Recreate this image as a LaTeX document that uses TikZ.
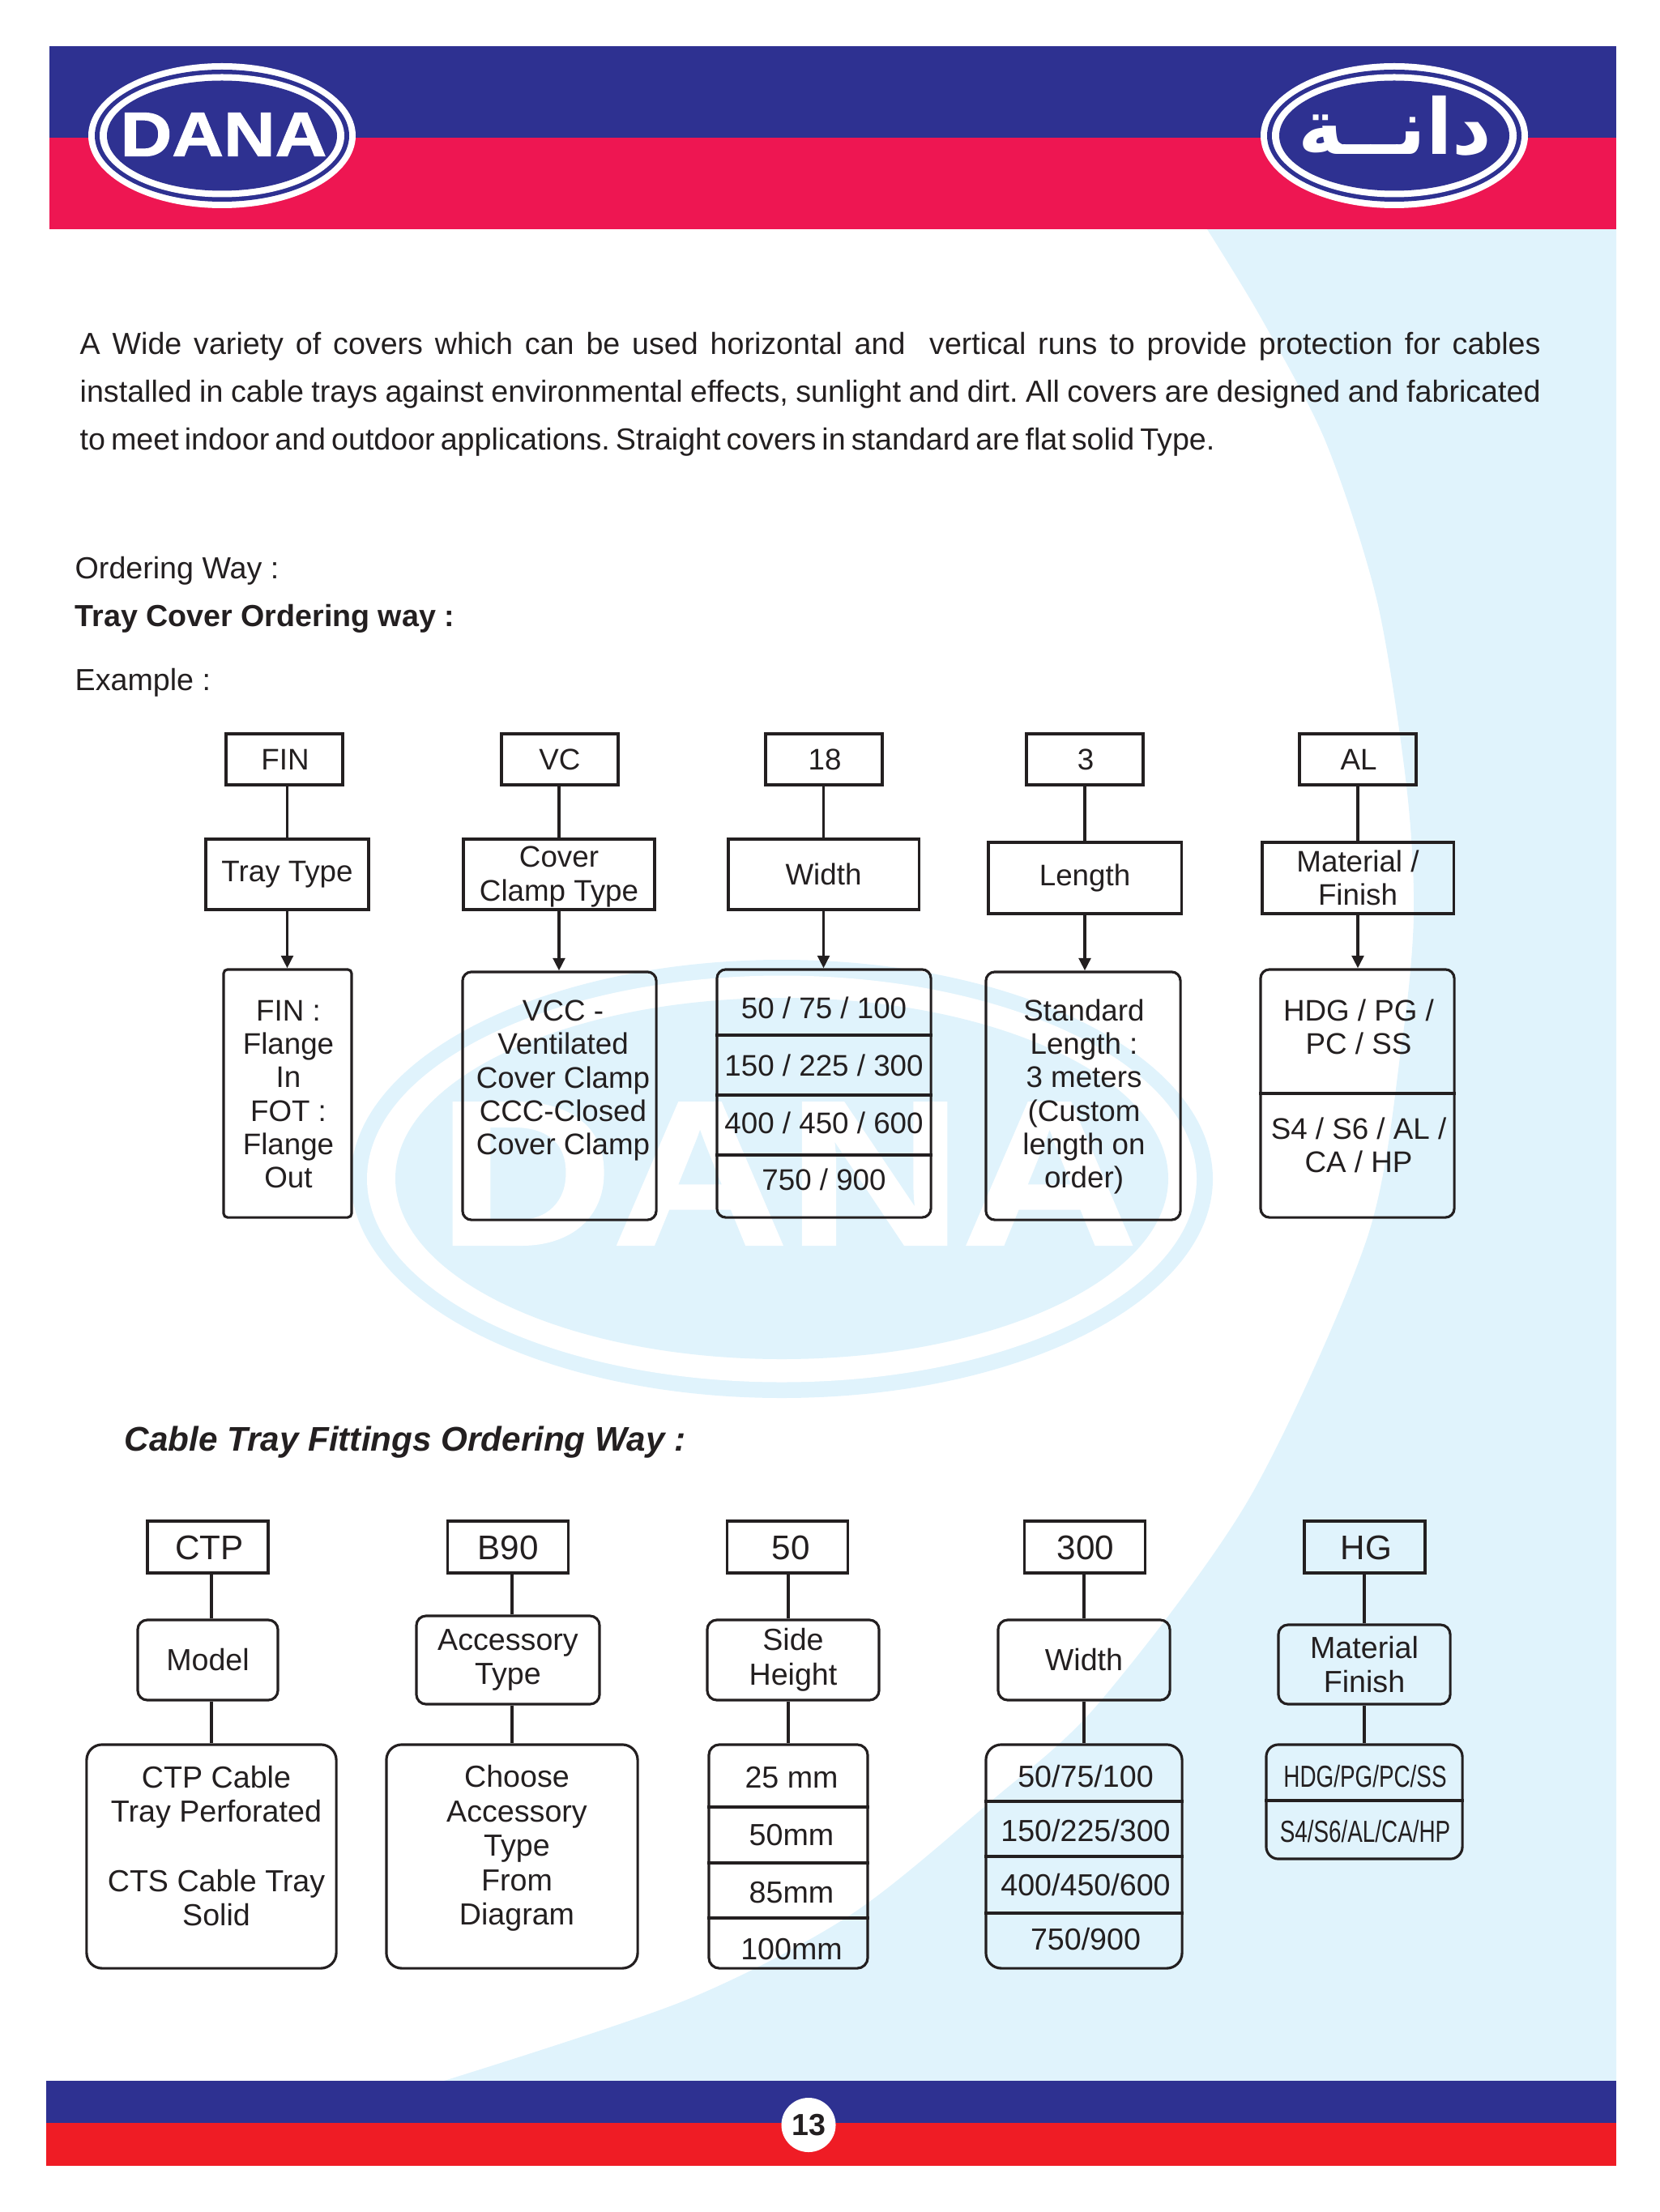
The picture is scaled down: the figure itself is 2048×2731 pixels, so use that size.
\documentclass[tikz,border=0pt]{standalone}
\usepackage{fontspec}
\setmainfont{Liberation Sans}
\newfontfamily\arabicfont[Script=Arabic]{DejaVu Sans}
\newfontfamily\condfont[FakeStretch=0.74]{Liberation Sans}
\newfontfamily\wideboldfont[FakeStretch=1.14,FakeBold=1.5]{Liberation Sans Bold}
\newfontfamily\markfont[FakeStretch=1.18,FakeBold=1.5]{Liberation Sans Bold}
\TeXXeTstate=1
\usetikzlibrary{arrows.meta,shapes.geometric}
\definecolor{danablue}{HTML}{2E3191}
\definecolor{danarose}{HTML}{EE1652}
\definecolor{danared}{HTML}{EF1C25}
\definecolor{danapale}{HTML}{E0F3FC}
\definecolor{ink}{HTML}{231F20}
\newcommand{\rowfont}{\fontsize{10.45}{11.7}\selectfont}
\newcommand{\fitfont}{\fontsize{10.7}{12.1}\selectfont}
\newcommand{\pagefont}{\fontsize{10.7}{16.8}\selectfont\frenchspacing}

\begin{document}
\begin{tikzpicture}[x=0.01cm,y=-0.01cm,
  every node/.style={text=ink, inner sep=0pt},
  tag/.style={draw=ink, line width=0.9pt, rectangle, minimum width=1.44cm, minimum height=0.63cm,
              font=\rowfont, text height=7.6pt, text depth=0pt},
  ftag/.style={tag, minimum width=1.49cm, minimum height=0.64cm, font=\fontsize{12}{13}\selectfont, text height=8.6pt},
  lbl/.style={draw=ink, line width=0.9pt, rectangle, align=center, font=\rowfont},
  flbl/.style={lbl, rounded corners=1.2mm, font=\fitfont},
  opt/.style={draw=ink, line width=0.9pt, rectangle, rounded corners=1.1mm},
  fopt/.style={opt, rounded corners=1.9mm},
  txt/.style={align=center, font=\rowfont},
  ftxt/.style={align=center, font=\fitfont},
  cell/.style={font=\rowfont, text height=7.6pt, text depth=0pt},
  fcell/.style={font=\fitfont, text height=7.7pt, text depth=0pt},
  para/.style={anchor=west, font=\pagefont},
  ln/.style={draw=ink, line width=0.9pt},
  ar/.style={ln, -{Triangle[length=4.4pt,width=4.2pt]}}]

\useasboundingbox (0,0) rectangle (2048,2731);

%% ---- PAGE BACKGROUND ----
\fill[danapale] plot[smooth] coordinates {(1490,283) (1558,395) (1637,547) (1700,743) (1736,970)
  (1745,1130) (1730,1290) (1687,1530) (1542,1850) (1356,2103) (1223,2224) (1050,2364) (845,2470) (548,2569)}
  -- (1995,2569) -- (1995,283) -- cycle;
\fill[danapale] (965,1455.5) ellipse [x radius=532, y radius=270.5];
\fill[white]    (965,1455.5) ellipse [x radius=512, y radius=251];
\fill[danapale] (965,1455)   ellipse [x radius=477, y radius=223];
\node[text=white, font=\markfont\fontsize{72}{72}\selectfont] (wmark) at (972,1449) {DANA};

%% ---- HEADER AND FOOTER BANDS ----
\fill[danablue] (61,57) rectangle (1995,170);
\fill[danarose] (61,170) rectangle (1995,283);
\fill[danablue] (57,2569) rectangle (1995,2621);
\fill[danared]  (57,2621) rectangle (1995,2674);
\foreach \cx in {274,1721} {
  \fill[white]    (\cx,167.5) ellipse [x radius=165, y radius=89.5];
  \fill[danablue] (\cx,167.5) ellipse [x radius=157, y radius=81.5];
  \fill[white]    (\cx,167.5) ellipse [x radius=151, y radius=76];
  \fill[danablue] (\cx,167.5) ellipse [x radius=142, y radius=68];
}
\node[text=white, font=\wideboldfont\fontsize{22}{22}\selectfont] (logoL) at (276,166) {DANA};
\node[text=white, font=\arabicfont\bfseries\fontsize{27}{27}\selectfont] (logoR) at (1722,156) {\beginR دانــة\endR};
\node[circle, fill=white, minimum size=0.67cm, font=\bfseries\fontsize{10.7}{12}\selectfont] (pgnum) at (998,2623.5) {13};

%% ---- INTRO TEXT ----
\node[para] (intro1) at (98,428) {\makebox[18.02cm][s]{A Wide variety of covers which can be used horizontal and\ \ vertical runs to provide protection for cables}};
\node[para] (intro2) at (98,487) {\makebox[18.02cm][s]{installed in cable trays against environmental effects, sunlight and dirt. All covers are designed and fabricated}};
\node[para] (intro3) at (98,546) {\makebox[14.0cm][s]{to meet indoor and outdoor applications. Straight covers in standard are flat solid Type.}};
\node[para] (ordway) at (92,705) {Ordering Way :};
\node[para, font=\pagefont\bfseries] (ordcov) at (92,764) {Tray Cover Ordering way :};
\node[para] (example) at (92,843) {Example :};
\node[para, font=\fontsize{12}{14}\selectfont\bfseries\itshape] (fitttl) at (153,1781) {Cable Tray Fittings Ordering Way :};

%% ---- TRAY COVER ROW (top, label, options) ----
\node[tag] (tFIN) at (351,937.5)  {\hspace*{0.02cm}FIN};
\node[tag] (tVC)  at (691,937.5)  {VC};
\node[tag] (t18)  at (1017,937.5) {\hspace*{0.02cm}18};
\node[tag] (t3)   at (1339,937.5) {\hspace*{0.02cm}3};
\node[tag] (tAL)  at (1676,937.5) {\hspace*{0.02cm}AL};

\node[lbl, minimum width=2.01cm, minimum height=0.87cm] (mFIN) at (354.5,1079.5) {Tray Type};
\node[lbl, minimum width=2.36cm, minimum height=0.87cm] (mVC)  at (690,1079.5)   {\rule{0pt}{9pt}Cover\\Clamp Type};
\node[lbl, minimum width=2.35cm, minimum height=0.87cm] (m18)  at (1016.5,1079.5){Width};
\node[lbl, minimum width=2.38cm, minimum height=0.88cm] (m3)   at (1339,1084)    {Length};
\node[lbl, minimum width=2.36cm, minimum height=0.88cm] (mAL)  at (1676,1084)    {Material /\\Finish};

\node[opt, rounded corners=0.5mm, minimum width=1.58cm, minimum height=3.06cm] (bFIN) at (355,1350) {};
\node[opt, minimum width=2.39cm, minimum height=3.06cm] (bVC)  at (690.5,1353) {};
\node[opt, minimum width=2.64cm, minimum height=3.06cm] (b18)  at (1017,1350)  {};
\node[opt, minimum width=2.40cm, minimum height=3.06cm] (b3)   at (1337,1353)  {};
\node[opt, minimum width=2.39cm, minimum height=3.06cm] (bAL)  at (1675.5,1350){};

\node[txt] (xFIN) at (356,1351) {FIN :\\Flange\\In\\FOT :\\Flange\\Out};
\node[txt] (xVC)  at (695,1334) {VCC -\\Ventilated\\Cover Clamp\\CCC-Closed\\Cover Clamp};
\node[cell] (w1) at (1017,1244) {50 / 75 / 100};
\node[cell] (w2) at (1017,1315) {150 / 225 / 300};
\node[cell] (w3) at (1017,1386) {400 / 450 / 600};
\node[cell] (w4) at (1017,1456) {750 / 900};
\node[txt] (x3)   at (1338,1354) {Standard\\Length :\\3 meters\\(Custom\\length on\\order)};
\node[txt] (xAL1) at (1677,1268) {HDG / PG /\\PC / SS};
\node[txt] (xAL2) at (1677,1414) {S4 / S6 / AL /\\CA / HP};

%% --- Lines ---
\foreach \nm in {FIN,VC,18,3,AL} {
  \draw[ln] (m\nm.north |- t\nm.south) -- (m\nm.north);
  \draw[ar] (m\nm.south) -- (m\nm.south |- b\nm.north);
}
\foreach \yy in {1278,1352,1426}
  \draw[ln] (b18.west |- 0,\yy) -- (b18.east |- 0,\yy);
\draw[ln] (bAL.west |- 0,1350) -- (bAL.east |- 0,1350);

%% ---- FITTINGS ROW (top, label, options) ----
\node[ftag] (tCTP) at (256.5,1910)  {\hspace*{0.04cm}CTP};
\node[ftag] (tB)   at (627,1910)    {B90};
\node[ftag] (tS)   at (972,1910)    {\hspace*{0.08cm}50};
\node[ftag] (tW)   at (1339,1910)   {\hspace*{0.02cm}300};
\node[ftag] (tH)   at (1684.5,1910) {\hspace*{0.04cm}HG};

\node[flbl, minimum width=1.73cm, minimum height=0.99cm] (mCTP) at (256.5,2049.5) {Model};
\node[flbl, minimum width=2.26cm, minimum height=1.09cm] (mB)   at (627,2049.5)   {Accessory\\Type};
\node[flbl, minimum width=2.12cm, minimum height=0.99cm] (mS)   at (979,2049.5)   {Side\\Height};
\node[flbl, minimum width=2.12cm, minimum height=0.99cm] (mW)   at (1338,2049.5)  {Width};
\node[flbl, minimum width=2.12cm, minimum height=0.98cm] (mH)   at (1684,2055)    {Material\\Finish};

\node[fopt, minimum width=3.08cm, minimum height=2.76cm] (bCTP) at (261,2292) {};
\node[fopt, minimum width=3.10cm, minimum height=2.76cm] (bB)   at (632,2292) {};
\node[fopt, rounded corners=1.3mm, minimum width=1.96cm, minimum height=2.76cm] (bS) at (973,2292) {};
\node[fopt, minimum width=2.42cm, minimum height=2.76cm] (bW)   at (1338,2292) {};
\node[fopt, rounded corners=1.5mm, minimum width=2.42cm, minimum height=1.41cm] (bH) at (1684,2224.5) {};

\node[ftxt] (xCTP) at (267,2279) {CTP Cable\\Tray Perforated\\[12.1pt]CTS Cable Tray\\Solid};
\node[ftxt] (xB)   at (638,2282) {Choose\\Accessory\\Type\\From\\Diagram};
\node[fcell] (s1) at (977,2194) {25 mm};
\node[fcell] (s2) at (977,2265) {50mm};
\node[fcell] (s3) at (977,2336) {85mm};
\node[fcell] (s4) at (977,2406) {100mm};
\node[fcell] (v1) at (1340,2193) {50/75/100};
\node[fcell] (v2) at (1340,2260) {150/225/300};
\node[fcell] (v3) at (1340,2327) {400/450/600};
\node[fcell] (v4) at (1340,2394) {750/900};
\node[fcell, font=\condfont\fitfont] (h1) at (1685,2193) {HDG/PG/PC/SS};
\node[fcell, font=\condfont\fitfont] (h2) at (1685,2261) {S4/S6/AL/CA/HP};

%% --- Lines ---
\foreach \nm in {CTP,B,S,W,H} {
  \draw[ln] (b\nm.north |- t\nm.south) -- (b\nm.north |- m\nm.north);
  \draw[ln] (b\nm.north |- m\nm.south) -- (b\nm.north);
}
\foreach \yy in {2231,2300,2368}
  \draw[ln] (bS.west |- 0,\yy) -- (bS.east |- 0,\yy);
\foreach \yy in {2224,2292,2362}
  \draw[ln] (bW.west |- 0,\yy) -- (bW.east |- 0,\yy);
\draw[ln] (bH.west |- 0,2223) -- (bH.east |- 0,2223);
\end{tikzpicture}
\end{document}
